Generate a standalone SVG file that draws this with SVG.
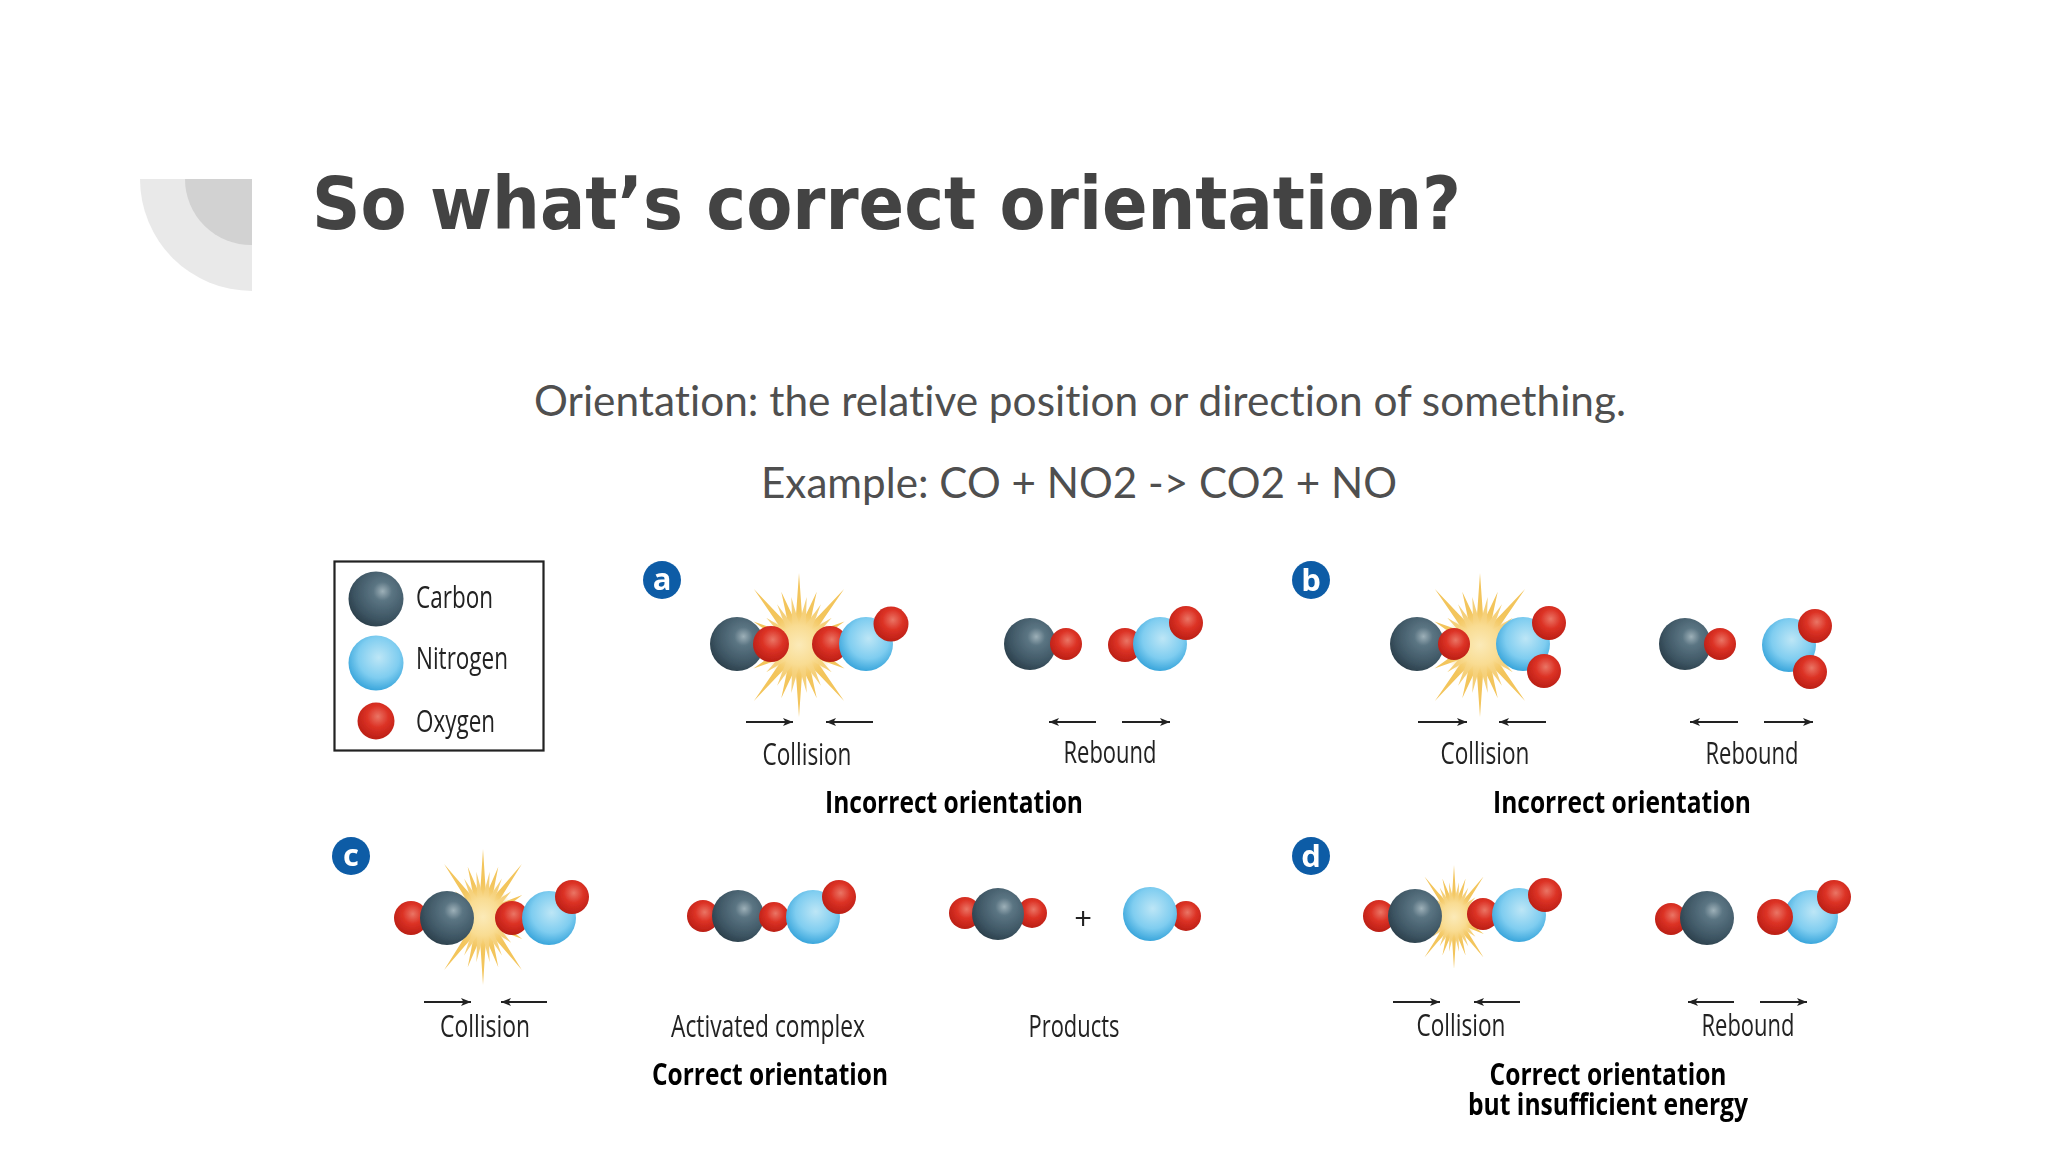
<svg xmlns="http://www.w3.org/2000/svg" width="2048" height="1152" viewBox="0 0 2048 1152">
<style>
.title{font:bold 73px "DejaVu Sans",sans-serif;fill:#434343}
.body{font:43px "Lato",sans-serif;fill:#4f4f4f;text-anchor:middle;font-variant-ligatures:none}
.lab{font:31px "Open Sans",sans-serif;fill:#222}
.mid{text-anchor:middle}
.bold{font:bold 30px "Open Sans",sans-serif;fill:#000;text-anchor:middle}
.badge{fill:#0b5ca6}
.bl{font:bold 31px "Open Sans",sans-serif;fill:#fff;text-anchor:middle}
.C{fill:url(#gc)}.N{fill:url(#gn)}.O{fill:url(#go)}
.arr{stroke:#222;stroke-width:2.200;fill:none;marker-end:url(#ah)}
</style>
<defs>
<radialGradient id="gc" cx=".62" cy=".36" r=".68"><stop offset="0" stop-color="#9db0b8"/><stop offset=".25" stop-color="#5b7583"/><stop offset=".75" stop-color="#3d5563"/><stop offset="1" stop-color="#2c404c"/></radialGradient>
<radialGradient id="gn" cx=".55" cy=".4" r=".62"><stop offset="0" stop-color="#bde6f6"/><stop offset=".6" stop-color="#7fcdf0"/><stop offset="1" stop-color="#35a3da"/></radialGradient>
<radialGradient id="go" cx=".55" cy=".38" r=".65"><stop offset="0" stop-color="#ea7565"/><stop offset=".45" stop-color="#dc3225"/><stop offset="1" stop-color="#b81d14"/></radialGradient>
<radialGradient id="gs"><stop offset="0" stop-color="#fbeab8"/><stop offset=".55" stop-color="#f9dc92"/><stop offset="1" stop-color="#f5cd72" stop-opacity="0"/></radialGradient>
<marker id="ah" viewBox="0 0 10 8" refX="10" refY="4" markerWidth="10" markerHeight="8" markerUnits="userSpaceOnUse" orient="auto"><path d="M0 0L10 4L0 8L2.500 4Z" fill="#222"/></marker>
<g id="star">
<polygon fill="#f3c55c" points="0,-1 .06,-.32 .306,-.739 .18,-.27 .778,-.778 .27,-.18 .785,-.325 .32,-.06 1,0 .32,.06 .785,.325 .27,.18 .778,.778 .18,.27 .306,.739 .06,.32 0,1 -.06,.32 -.306,.739 -.18,.27 -.778,.778 -.27,.18 -.785,.325 -.32,.06 -1,0 -.32,-.06 -.785,-.325 -.27,-.18 -.778,-.778 -.18,-.27 -.306,-.739 -.06,-.32"/>
<polygon fill="#f5d07a" points="0,-.3 .133,-.667 .115,-.277 .378,-.565 .212,-.212 .565,-.378 .277,-.115 .667,-.133 .3,0 .667,.133 .277,.115 .565,.378 .212,.212 .378,.565 .115,.277 .133,.667 0,.3 -.133,.667 -.115,.277 -.378,.565 -.212,.212 -.565,.378 -.277,.115 -.667,.133 -.3,0 -.667,-.133 -.277,-.115 -.565,-.378 -.212,-.212 -.378,-.565 -.115,-.277 -.133,-.667"/>
<ellipse rx=".62" ry=".5" fill="url(#gs)"/>
</g>
<filter id="soft" x="-2%" y="-2%" width="104%" height="104%"><feGaussianBlur stdDeviation=".7"/></filter>
</defs>
<rect width="2048" height="1152" fill="#fff"/>
<g id="corner-decoration">
<path d="M140 179H252V291A112 112 0 0 1 140 179Z" fill="#e9e9e9"/>
<path d="M185 179H252V245A66 66 0 0 1 185 179Z" fill="#d2d2d2"/>
</g>
<text id="title" class="title" x="312" y="229" textLength="1149" lengthAdjust="spacingAndGlyphs">So what’s correct orientation?</text>
<text id="line1" class="body" x="1080" y="416" textLength="1092" lengthAdjust="spacingAndGlyphs">Orientation: the relative position or direction of something.</text>
<text id="line2" class="body" x="1079" y="498" textLength="636" lengthAdjust="spacingAndGlyphs">Example: CO + NO2 -&gt; CO2 + NO</text>
<g id="illustration" filter="url(#soft)">
<g id="legend">
<rect x="334.500" y="561.500" width="209" height="189" fill="#fff" stroke="#222" stroke-width="2.200"/>
<circle class="C" cx="376" cy="599" r="27.500"/><circle class="N" cx="376" cy="663" r="27.500"/><circle class="O" cx="376" cy="721" r="18.500"/>
<text class="lab" x="416" y="608" textLength="77" lengthAdjust="spacingAndGlyphs">Carbon</text>
<text class="lab" x="416" y="669" textLength="92" lengthAdjust="spacingAndGlyphs">Nitrogen</text>
<text class="lab" x="416" y="732" textLength="79" lengthAdjust="spacingAndGlyphs">Oxygen</text>
</g>
<g id="panel-a">
<circle class="badge" cx="662" cy="580" r="19"/><text class="bl" x="662" y="590">a</text>
<use href="#star" transform="translate(799 645) scale(58 72)"/>
<circle class="C" cx="737" cy="644" r="27"/><circle class="O" cx="771" cy="644" r="18"/>
<circle class="O" cx="830" cy="644" r="18"/><circle class="N" cx="866" cy="644" r="27"/><circle class="O" cx="891" cy="624" r="17.500"/>
<circle class="C" cx="1030" cy="644" r="26"/><circle class="O" cx="1066" cy="644" r="16"/>
<circle class="O" cx="1125" cy="645" r="17"/><circle class="N" cx="1160" cy="644" r="27"/><circle class="O" cx="1186" cy="623" r="17"/>
<text class="lab mid" x="807" y="765" textLength="89" lengthAdjust="spacingAndGlyphs">Collision</text>
<text class="lab mid" x="1110" y="763" textLength="93" lengthAdjust="spacingAndGlyphs">Rebound</text>
<text class="bold" x="954" y="813" textLength="258" lengthAdjust="spacingAndGlyphs">Incorrect orientation</text>
</g>
<g id="panel-b">
<circle class="badge" cx="1311" cy="580" r="19"/><text class="bl" x="1311" y="591">b</text>
<use href="#star" transform="translate(1480 645) scale(58 72)"/>
<circle class="C" cx="1417" cy="644" r="27"/><circle class="O" cx="1454" cy="644" r="16"/>
<circle class="N" cx="1523" cy="644" r="27"/><circle class="O" cx="1549" cy="623" r="17"/><circle class="O" cx="1544" cy="671" r="17"/>
<circle class="C" cx="1685" cy="644" r="26"/><circle class="O" cx="1720" cy="644" r="16"/>
<circle class="N" cx="1789" cy="645" r="27"/><circle class="O" cx="1815" cy="626" r="17"/><circle class="O" cx="1810" cy="672" r="17"/>
<text class="lab mid" x="1485" y="764" textLength="89" lengthAdjust="spacingAndGlyphs">Collision</text>
<text class="lab mid" x="1752" y="764" textLength="93" lengthAdjust="spacingAndGlyphs">Rebound</text>
<text class="bold" x="1622" y="813" textLength="258" lengthAdjust="spacingAndGlyphs">Incorrect orientation</text>
</g>
<g id="panel-c">
<circle class="badge" cx="351" cy="856" r="19"/><text class="bl" x="351" y="866">c</text>
<use href="#star" transform="translate(483 917) scale(50 68)"/>
<circle class="O" cx="411" cy="918" r="17"/><circle class="C" cx="447" cy="918" r="27"/>
<circle class="O" cx="512" cy="918" r="17"/><circle class="N" cx="549" cy="918" r="27"/><circle class="O" cx="572" cy="897" r="17"/>
<text class="lab mid" x="485" y="1037" textLength="90" lengthAdjust="spacingAndGlyphs">Collision</text>
<circle class="O" cx="703" cy="916" r="16"/><circle class="C" cx="738" cy="916" r="26"/><circle class="O" cx="774" cy="917" r="15"/><circle class="N" cx="813" cy="917" r="27"/><circle class="O" cx="839" cy="897" r="17"/>
<text class="lab mid" x="768" y="1037" textLength="194" lengthAdjust="spacingAndGlyphs">Activated complex</text>
<circle class="O" cx="965" cy="913" r="16"/><circle class="O" cx="1032" cy="913" r="15"/><circle class="C" cx="998" cy="914" r="26"/>
<text class="lab mid" x="1083" y="930">+</text>
<circle class="O" cx="1186" cy="916" r="15"/><circle class="N" cx="1150" cy="914" r="27"/>
<text class="lab mid" x="1074" y="1037" textLength="91" lengthAdjust="spacingAndGlyphs">Products</text>
<text class="bold" x="770" y="1085" textLength="236" lengthAdjust="spacingAndGlyphs">Correct orientation</text>
</g>
<g id="panel-d">
<circle class="badge" cx="1311" cy="856" r="19"/><text class="bl" x="1311" y="867">d</text>
<use href="#star" transform="translate(1454 917) scale(38 52)"/>
<circle class="O" cx="1379" cy="916" r="16"/><circle class="C" cx="1415" cy="916" r="27"/>
<circle class="O" cx="1483" cy="914" r="16"/><circle class="N" cx="1519" cy="915" r="27"/><circle class="O" cx="1545" cy="895" r="17"/>
<circle class="O" cx="1671" cy="919" r="16"/><circle class="C" cx="1707" cy="918" r="27"/>
<circle class="N" cx="1811" cy="917" r="27"/><circle class="O" cx="1775" cy="917" r="18"/><circle class="O" cx="1834" cy="897" r="17"/>
<text class="lab mid" x="1461" y="1036" textLength="89" lengthAdjust="spacingAndGlyphs">Collision</text>
<text class="lab mid" x="1748" y="1036" textLength="93" lengthAdjust="spacingAndGlyphs">Rebound</text>
<text class="bold"><tspan x="1608" y="1085" textLength="237" lengthAdjust="spacingAndGlyphs">Correct orientation</tspan><tspan x="1608" y="1115" textLength="280" lengthAdjust="spacingAndGlyphs">but insufficient energy</tspan></text>
</g>
<g id="connectors">
<path class="arr" d="M746 722H793"/><path class="arr" d="M873 722H826"/><path class="arr" d="M1096 722H1049"/><path class="arr" d="M1122 722H1170"/>
<path class="arr" d="M1418 722H1467"/><path class="arr" d="M1546 722H1499"/><path class="arr" d="M1738 722H1690"/><path class="arr" d="M1764 722H1813"/>
<path class="arr" d="M424 1002H471"/><path class="arr" d="M547 1002H501"/>
<path class="arr" d="M1393 1002H1440"/><path class="arr" d="M1520 1002H1474"/><path class="arr" d="M1734 1002H1688"/><path class="arr" d="M1760 1002H1807"/>
</g>
</g>
</svg>
